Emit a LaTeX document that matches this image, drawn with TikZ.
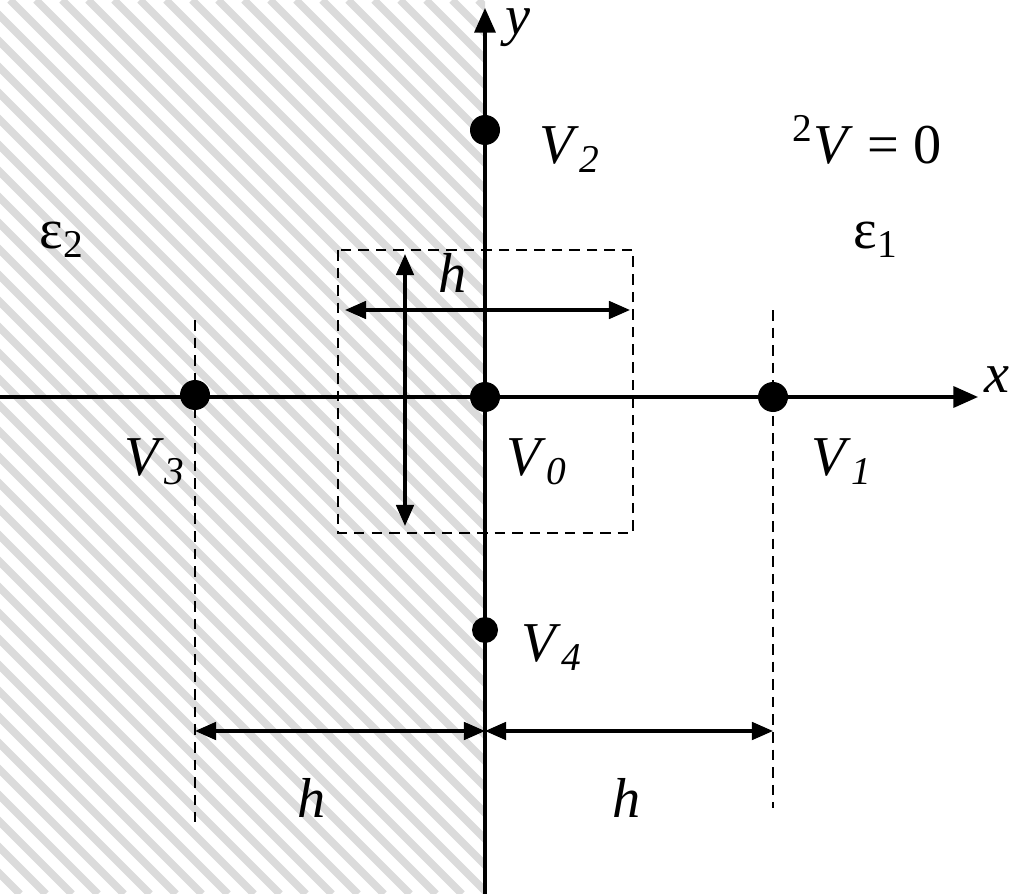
\documentclass[tikz,border=0pt]{standalone}
\usepackage{fontspec}
\setmainfont{Liberation Serif}
\usetikzlibrary{arrows.meta}
\newcommand{\Vsub}[1]{\textit{V}\textsubscript{\textit{#1}}}
\begin{document}
\begin{tikzpicture}[x=0.01cm,y=-0.01cm,
  ax/.style={line width=0.9pt,-{Triangle[length=7pt,width=6pt]}},
  dim/.style={line width=0.9pt,{Triangle[length=6pt,width=5pt]}-{Triangle[length=6pt,width=5pt]}},
  guide/.style={line width=0.6pt,dash pattern=on 3pt off 2pt},
  dot/.style={circle,fill=black,inner sep=0pt,minimum size=#1},
  lbl/.style={font=\fontsize{16}{18}\selectfont}]
\useasboundingbox (0,0) rectangle (1024,894);
\begin{scope}
\clip (0,0) rectangle (485,894);
\foreach \a in {-900,-874,...,500}
  \draw[line width=2.2pt,gray!28] (\a,0) -- (\a+894,894);
\end{scope}
\coordinate (ybot) at (485,894);
\coordinate (ytop) at (485,8);
\coordinate (xl) at (0,397);
\coordinate (xr) at (978,397);
\draw[ax] (ybot) -- (ytop);
\draw[ax] (xl) -- (xr);
\node[lbl] (xlab) at (997,380) {\textit{x}};
\node[lbl] (ylab) at (518,28) {\textit{y}};
\node[dot=30*0.01cm] (v2) at (485,130) {};
\node[dot=30*0.01cm] (v0) at (485,397) {};
\node[dot=30*0.01cm] (v3) at (195,395) {};
\node[dot=30*0.01cm] (v1) at (773,397) {};
\node[dot=26*0.01cm] (v4) at (485,630) {};
\node[lbl] (l2) at (570,150) {\Vsub{2}};
\node[lbl] (l0) at (537,462) {\Vsub{0}};
\node[lbl] (l3) at (155,462) {\Vsub{3}};
\node[lbl] (l1) at (842,462) {\Vsub{1}};
\node[lbl] (l4) at (552,648) {\Vsub{4}};
\node[lbl] (lap) at (845,140) {∇\textsuperscript{2}\textit{V} = 0};
\node[lbl] (e2) at (62,240) {ε\textsubscript{2}};
\node[lbl] (e1) at (876,240) {ε\textsubscript{1}};
\draw[guide] (338,250) rectangle (633,533);
\coordinate (ha) at (345,310); \coordinate (hb) at (630,310);
\draw[dim] (ha) -- (hb);
\node[lbl] (hl) at (453,273) {\textit{h}};
\coordinate (va) at (405,254); \coordinate (vb) at (405,526);
\draw[dim] (va) -- (vb);
\coordinate (g1a) at (195,320); \coordinate (g1b) at (195,822);
\coordinate (g2a) at (773,310); \coordinate (g2b) at (773,808);
\draw[guide] (g1a) -- (g1b);
\draw[guide] (g2a) -- (g2b);
\coordinate (b1) at (195,731); \coordinate (b2) at (485,731); \coordinate (b3) at (773,731);
\draw[dim] (b1) -- (b2);
\draw[dim] (b2) -- (b3);
\node[lbl] (h1) at (312,798) {\textit{h}};
\node[lbl] (h2) at (627,798) {\textit{h}};
\end{tikzpicture}
\end{document}
